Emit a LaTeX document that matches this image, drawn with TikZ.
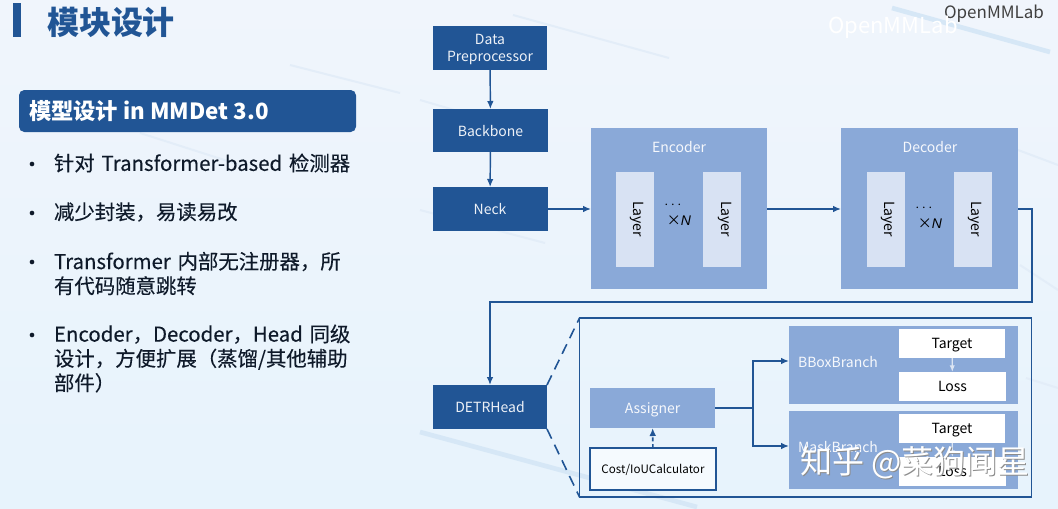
\documentclass[tikz,border=0pt]{standalone}
\usepackage{fontspec}
\setmainfont{Noto Sans CJK SC}
\newfontfamily\bodyfont[FakeBold=0.25]{Noto Sans CJK SC}
\newfontfamily\italfont{Liberation Sans}
\usetikzlibrary{arrows.meta,shadings}
\definecolor{navy}{HTML}{215595}
\definecolor{midblue}{HTML}{8AA9D8}
\definecolor{paleblue}{HTML}{D8E2F3}
\definecolor{inktext}{HTML}{0F1A2A}
\definecolor{bgtop}{HTML}{F0F5FC}
\definecolor{bgbottom}{HTML}{E7F3FC}
\definecolor{streak}{HTML}{E3EDF8}
\definecolor{streakstrong}{HTML}{D6E7F6}
\newcommand{\pxu}{0.75pt}
\newcommand{\fpx}[1]{\fontsize{\fpeval{#1*0.75}}{\fpeval{#1*0.9}}\selectfont\lineskiplimit=-20pt}
\tikzset{
  x=0.75pt,y=-0.75pt,
  anynode/.style={inner sep=0pt,outer sep=0pt,align=center,font=\fpx{14}},
  darkbox/.style={anynode,fill=navy,text=white!92!navy,text depth=-1.2pt},
  midbox/.style={anynode,fill=midblue,text=white!92!midblue,text depth=0pt},
  whitebox/.style={anynode,fill=white,text=black,text depth=0pt},
  layerbox/.style={anynode,fill=paleblue,text=black},
  wire/.style={draw=navy,line width=1.1pt,-{Latex[length=6pt,width=5pt]}},
  plainwire/.style={draw=navy,line width=1.1pt},
  dashwire/.style={draw=navy,line width=1.2pt,dash pattern=on 8pt off 5pt},
  paleline/.style={draw=streak,line width=1.5pt},
  strongline/.style={draw=streakstrong,line width=3.5pt},
  bullettext/.style={anynode,anchor=west,align=left,font=\bodyfont\fpx{20.4},text=inktext,text width=310*\pxu},
  bulletdot/.style={circle,fill=inktext,minimum size=3.5pt,inner sep=0pt},
  plainlabel/.style={anynode,text=white!92!midblue,text depth=0pt},
}
\begin{document}
\begin{tikzpicture}
\useasboundingbox (0,0) rectangle (1058,508);
\shade[top color=bgtop, bottom color=bgbottom] (0,0) rectangle (1058,508);
% faint background streaks
\draw[paleline] (290,65) -- (400,93);
\draw[paleline] (513,15) -- (669,58);
\draw[paleline] (420,100) -- (540,135);
\draw[paleline] (420,210) -- (545,243);
\draw[paleline] (140,133) -- (240,165);
\draw[paleline] (1018,150) -- (1058,165);
\draw[paleline] (1020,265) -- (1058,290);
\draw[paleline] (1026,378) -- (1058,388);
\draw[strongline] (892,8) -- (1050,52);
\draw[strongline] (420,432) -- (697,507);

% title
\fill[navy] (13,3) rectangle (21,37);
\node[anynode,anchor=west,font=\bfseries\fpx{32},text=navy] (title) at (47,22) {模块设计};
\node[anynode,minimum width=337*\pxu,minimum height=42*\pxu,fill=navy,rounded corners=4pt] (banner) at (187.5,111) {};
\node[anynode,anchor=west,font=\bfseries\fpx{22.3},text=white] (bannertext) at (29,111) {模型设计 in MMDet 3.0};

% bullets
\node[bulletdot] (d1) at (32,164) {};
\node[bullettext] (b1) at (54,163) {针对 Transformer-based 检测器};
\node[bulletdot] (d2) at (32,213) {};
\node[bullettext] (b2) at (54,212) {减少封装，易读易改};
\node[bulletdot] (d3) at (32,262) {};
\node[bullettext] (b3) at (54,273.5) {Transformer 内部无注册器，所\\有代码随意跳转};
\node[bulletdot] (d4) at (32,335) {};
\node[bullettext] (b4) at (54,358.5) {Encoder，Decoder，Head 同级\\设计，方便扩展（蒸馏/其他辅助\\部件）};

% pipeline
\node[darkbox,minimum width=114*\pxu,minimum height=44*\pxu,text depth=-2.5pt] (data) at (490,48) {Data\\Preprocessor};
\node[darkbox,minimum width=115*\pxu,minimum height=43*\pxu] (backbone) at (490.5,130.5) {Backbone};
\node[darkbox,minimum width=115*\pxu,minimum height=44*\pxu] (neck) at (490,209) {Neck};
\draw[wire] (data) -- (backbone);
\draw[wire] (backbone) -- (neck);

% encoder
\node[midbox,minimum width=176*\pxu,minimum height=161*\pxu] (enc) at (679,208.5) {};
\node[plainlabel] (enclabel) at (679,147) {Encoder};
\node[layerbox,minimum width=38*\pxu,minimum height=95*\pxu] (e1box) at (635,219.5) {};
\node[anynode,rotate=-90] (e1) at (636.5,219) {Layer};
\node[layerbox,minimum width=38*\pxu,minimum height=95*\pxu] (e2box) at (722,219.5) {};
\node[anynode,rotate=-90] (e2) at (724.5,219) {Layer};
\node[anynode] (edots) at (673,205) {$\cdots$};
\node[anynode] (en) at (679,221) {×{\italfont\itshape N}};

% decoder
\node[midbox,minimum width=177*\pxu,minimum height=161*\pxu] (dec) at (929.5,208.5) {};
\node[plainlabel] (declabel) at (930,147) {Decoder};
\node[layerbox,minimum width=38*\pxu,minimum height=95*\pxu] (d1box) at (886,219.5) {};
\node[anynode,rotate=-90] (dl1) at (887.5,219) {Layer};
\node[layerbox,minimum width=38*\pxu,minimum height=95*\pxu] (d2box) at (973,219.5) {};
\node[anynode,rotate=-90] (dl2) at (975,219) {Layer};
\node[anynode] (ddots) at (924,208) {$\cdots$};
\node[anynode] (dn) at (930,224) {×{\italfont\itshape N}};

\draw[wire] (neck) -- (enc.west |- neck);
\draw[wire] (enc.east |- 0,209) -- (dec.west |- 0,209);

% head
\node[darkbox,minimum width=114*\pxu,minimum height=44*\pxu] (head) at (490,407) {DETRHead};
\draw[wire] (dec.east |- 0,209) -- (1032,209) -- (1032,302) -- (490,302) -- (head.north);

% detail frame
\node[anynode,draw=navy,line width=1.4pt,minimum width=452*\pxu,minimum height=179*\pxu] (frame) at (805.5,407.5) {};
\draw[dashwire] (head.north east) -- (frame.north west);
\draw[dashwire] (head.south east) -- (frame.south west);

\node[midbox,minimum width=125*\pxu,minimum height=40*\pxu] (assign) at (652.5,408) {Assigner};
\node[anynode,draw=navy,line width=1.2pt,minimum width=126*\pxu,minimum height=42*\pxu,font=\fpx{11.6},fill=bgbottom!40!white,text depth=0pt] (cost) at (653,469) {Cost/IoUCalculator};
\draw[dashwire,dash pattern=on 3pt off 2pt,-{Latex[length=6pt,width=5pt]}] (cost) -- (assign);

% bbox branch
\node[midbox,minimum width=229*\pxu,minimum height=78*\pxu] (bbox) at (903.5,365) {};
\node[plainlabel] (bboxlabel) at (838,362) {BBoxBranch};
\node[whitebox,minimum width=106*\pxu,minimum height=29*\pxu] (t1) at (952,343.5) {Target};
\node[whitebox,minimum width=107*\pxu,minimum height=29*\pxu] (l1) at (952.5,386.5) {Loss};
\draw[draw=white!70!midblue,line width=1pt,-{Latex[length=5pt,width=4pt]}] (t1) -- (l1);

% mask branch
\node[midbox,minimum width=229*\pxu,minimum height=78*\pxu] (mask) at (903.5,450) {};
\node[plainlabel] (masklabel) at (838,447) {MaskBranch};
\node[whitebox,minimum width=106*\pxu,minimum height=29*\pxu] (t2) at (952,428.5) {Target};
\node[whitebox,minimum width=107*\pxu,minimum height=29*\pxu] (l2) at (952.5,471.5) {Loss};
\draw[draw=white!70!midblue,line width=1pt,-{Latex[length=5pt,width=4pt]}] (t2) -- (l2);

% branch connectors
\coordinate (split) at (753,408);
\coordinate (bboxin) at (789,361);
\coordinate (maskin) at (789,446);
\draw[plainwire] (assign) -- (split);
\draw[wire] (split) -- (split |- bboxin) -- (bboxin);
\draw[wire] (split) -- (split |- maskin) -- (maskin);

% logos and watermarks
\node[anynode,font=\fpx{17},text=black!75] (logo) at (994,14) {OpenMMLab};
\node[anynode,font=\fpx{22},text=white] (wm1) at (893,27) {OpenMMLab};
\node[anynode,font=\fpx{32},text=black!45] (wmshadow) at (916,464) {知乎 @菜狗闻星};
\node[anynode,font=\fpx{32},text=white] (wm2) at (915,463) {知乎 @菜狗闻星};
\end{tikzpicture}
\end{document}
